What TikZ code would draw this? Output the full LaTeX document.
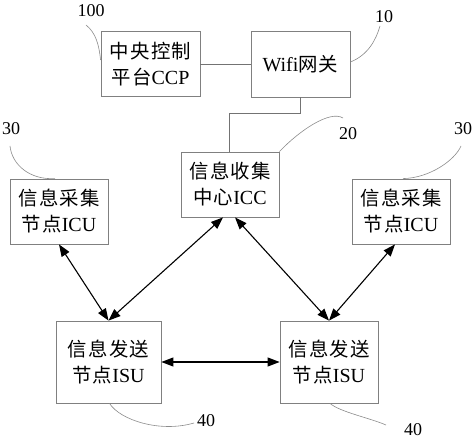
\documentclass[tikz,border=0pt]{standalone}
\usepackage{fontspec}
\setmainfont{Liberation Serif}
\newfontfamily\cjk{Noto Sans CJK SC}[Scale=0.97,LetterSpace=6]
\usetikzlibrary{arrows.meta,calc}
\tikzset{
  blk/.style={draw=black!50, line width=0.8pt, inner sep=0pt, align=center, font=\fontsize{20}{26}\selectfont},
  lead/.style={draw=black!45, line width=0.6pt},
  conn/.style={draw=black!55, line width=0.8pt},
  arr/.style={draw=black, line width=1.1pt, {Triangle[length=12pt,width=9pt]}-{Triangle[length=12pt,width=9pt]}},
  lbl/.style={font=\fontsize{18}{20}\selectfont, inner sep=0pt}
}
\begin{document}
\begin{tikzpicture}[x=1pt,y=-1pt]
\useasboundingbox (0,0) rectangle (474,441);
\fill[white] (0,0) rectangle (474,441);
\node[blk, minimum width=99pt, minimum height=65pt] (ccp) at (150.5,64) {{\cjk 中央控制}\\{\cjk 平台}CCP};
\node[blk, minimum width=99pt, minimum height=66pt] (wifi) at (300.5,64) {Wifi{\cjk 网关}};
\node[blk, minimum width=98pt, minimum height=65pt] (icc) at (230,184.5) {{\cjk 信息收集}\\{\cjk 中心}ICC};
\node[blk, minimum width=98pt, minimum height=65pt] (icul) at (59,211.5) {{\cjk 信息采集}\\{\cjk 节点}ICU};
\node[blk, minimum width=98pt, minimum height=65pt] (icur) at (401,211.5) {{\cjk 信息采集}\\{\cjk 节点}ICU};
\node[blk, minimum width=105pt, minimum height=82pt] (isul) at (108.5,362) {{\cjk 信息发送}\\{\cjk 节点}ISU};
\node[blk, minimum width=98pt, minimum height=82pt] (isur) at (329,362) {{\cjk 信息发送}\\{\cjk 节点}ISU};
% connections
\draw[conn] (ccp.east) -- (wifi.west);
\coordinate (icctop) at ([xshift=-1pt]icc.north);
\draw[conn] (wifi.south) -- ++(0,16) -| (icctop);
% arrows
\coordinate (iccl) at ([xshift=-7pt]icc.south);
\coordinate (iccr) at ([xshift=5pt]icc.south);
\coordinate (icurb) at ([xshift=-6pt]icur.south);
\draw[arr] (icul.south) -- (isul.north);
\draw[arr] (iccl) -- (isul.north);
\draw[arr] (iccr) -- (isur.north);
\draw[arr] (icurb) -- (isur.north);
\draw[arr] (isul.east) -- (isur.west);
% labels
\node[lbl] (l100) at (91,11) {100};
\node[lbl] (l10) at (384,17) {10};
\node[lbl] (l20) at (348,134) {20};
\node[lbl] (l30a) at (11,129) {30};
\node[lbl] (l30b) at (463,129) {30};
\node[lbl] (l40a) at (206,421) {40};
\node[lbl] (l40b) at (413,430) {40};
% leaders
\draw[lead] (ccp.west) ++(0,-4) .. controls (99,45) and (96,33) .. (86,25);
\draw[lead] (wifi.east) ++(0,-2) .. controls (368,55) and (376,40) .. (380,26);
\draw[lead] (icc.north east) .. controls (300,130) and (330,110) .. (343,118);
\draw[lead] ([xshift=-4pt]icul.north) .. controls (30,180) and (12,165) .. (10,146);
\draw[lead] ([xshift=2pt]icur.north) .. controls (430,178) and (455,160) .. (461,146);
\draw[lead] ([xshift=1pt]isul.south) .. controls (120,420) and (160,433) .. (194,423);
\draw[lead] ([xshift=1pt]isur.south) .. controls (340,412) and (370,418) .. (386,425);
\end{tikzpicture}
\end{document}
